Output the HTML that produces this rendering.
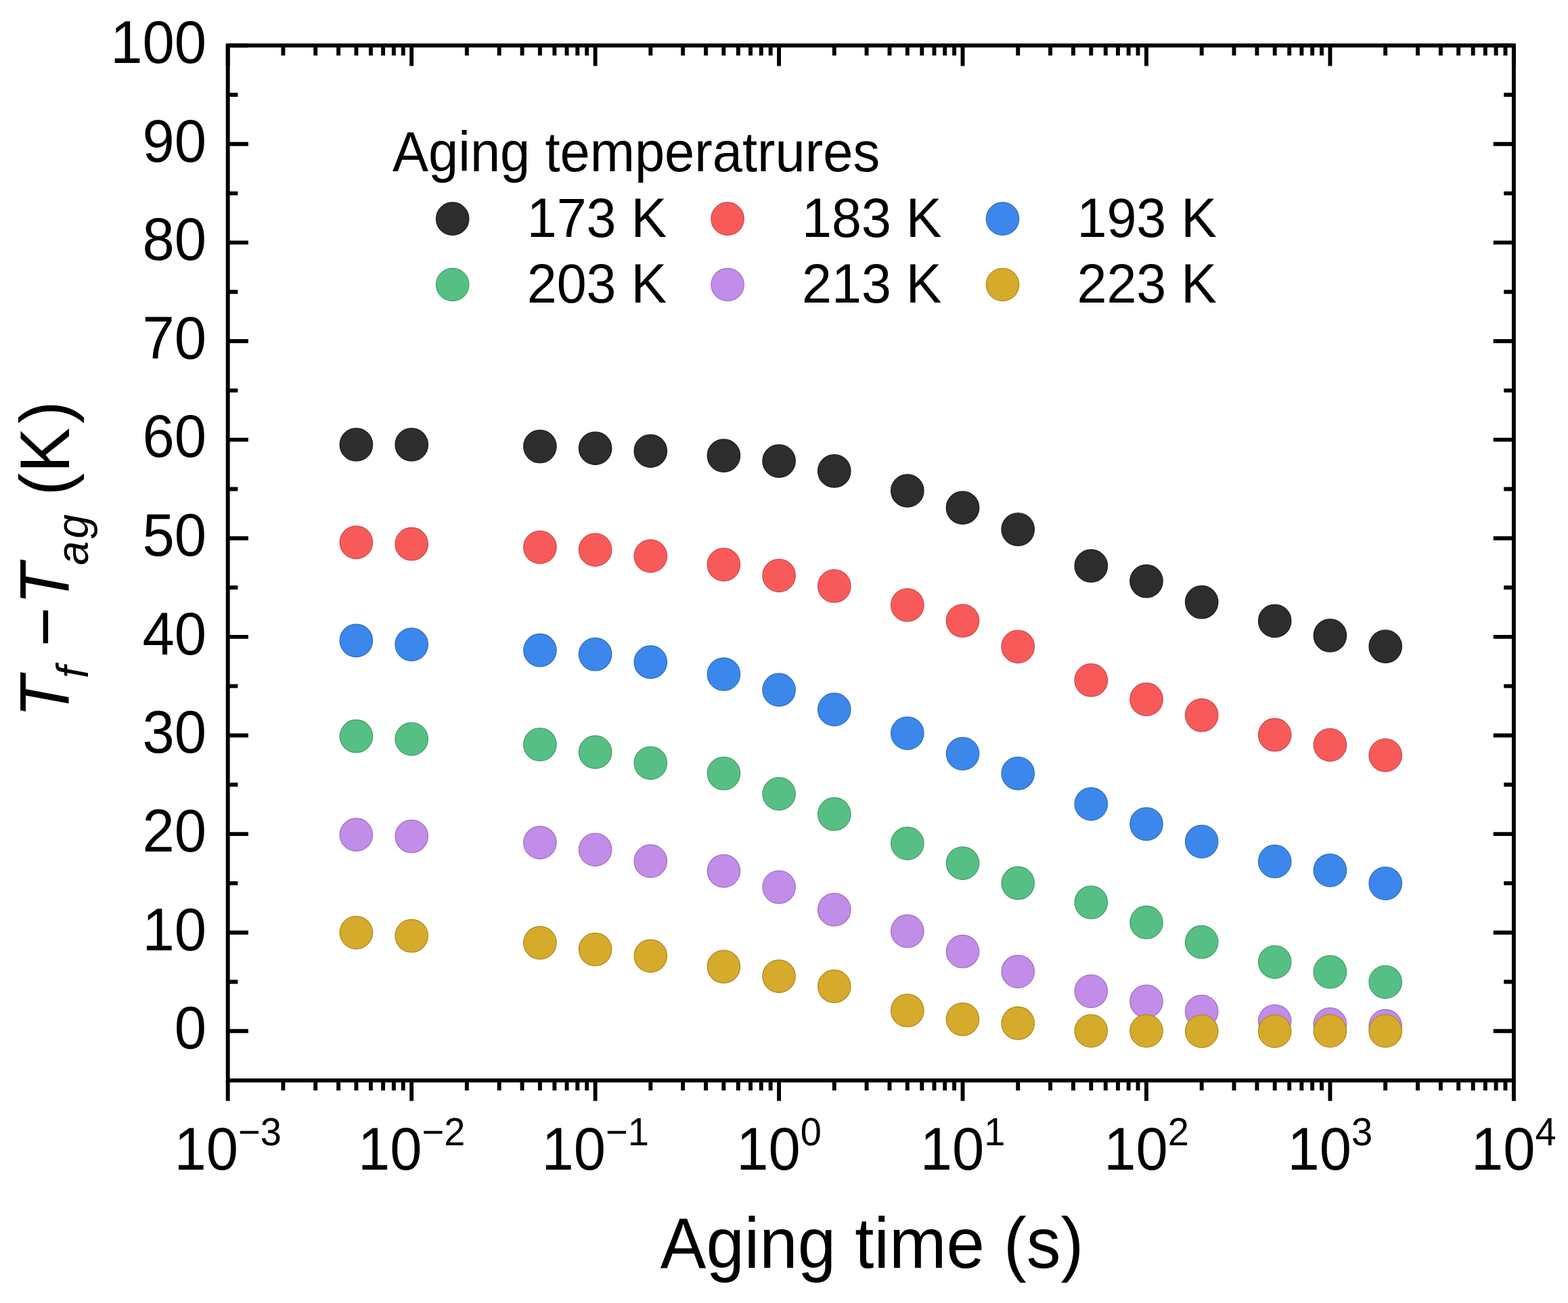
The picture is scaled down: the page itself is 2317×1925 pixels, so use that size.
<!DOCTYPE html>
<html><head><meta charset="utf-8"><title>Aging time plot</title>
<style>html,body{margin:0;padding:0;background:#fff;}svg{display:block;}text{font-family:"Liberation Sans",Arial,sans-serif;fill:#000;}</style>
</head><body>
<svg width="2317" height="1925" viewBox="0 0 2317 1925">
<rect x="0" y="0" width="2317" height="1925" fill="#fff"/>
<path d="M336.70 1596.20V1626.40M336.70 67.20V97.40M418.42 1596.20V1610.90M418.42 67.20V81.90M466.22 1596.20V1610.90M466.22 67.20V81.90M500.13 1596.20V1610.90M500.13 67.20V81.90M526.44 1596.20V1610.90M526.44 67.20V81.90M547.93 1596.20V1610.90M547.93 67.20V81.90M566.11 1596.20V1610.90M566.11 67.20V81.90M581.85 1596.20V1610.90M581.85 67.20V81.90M595.74 1596.20V1610.90M595.74 67.20V81.90M608.16 1596.20V1626.40M608.16 67.20V97.40M689.87 1596.20V1610.90M689.87 67.20V81.90M737.68 1596.20V1610.90M737.68 67.20V81.90M771.59 1596.20V1610.90M771.59 67.20V81.90M797.90 1596.20V1610.90M797.90 67.20V81.90M819.39 1596.20V1610.90M819.39 67.20V81.90M837.57 1596.20V1610.90M837.57 67.20V81.90M853.31 1596.20V1610.90M853.31 67.20V81.90M867.19 1596.20V1610.90M867.19 67.20V81.90M879.61 1596.20V1626.40M879.61 67.20V97.40M961.33 1596.20V1610.90M961.33 67.20V81.90M1009.13 1596.20V1610.90M1009.13 67.20V81.90M1043.05 1596.20V1610.90M1043.05 67.20V81.90M1069.35 1596.20V1610.90M1069.35 67.20V81.90M1090.85 1596.20V1610.90M1090.85 67.20V81.90M1109.02 1596.20V1610.90M1109.02 67.20V81.90M1124.76 1596.20V1610.90M1124.76 67.20V81.90M1138.65 1596.20V1610.90M1138.65 67.20V81.90M1151.07 1596.20V1626.40M1151.07 67.20V97.40M1232.79 1596.20V1610.90M1232.79 67.20V81.90M1280.59 1596.20V1610.90M1280.59 67.20V81.90M1314.50 1596.20V1610.90M1314.50 67.20V81.90M1340.81 1596.20V1610.90M1340.81 67.20V81.90M1362.31 1596.20V1610.90M1362.31 67.20V81.90M1380.48 1596.20V1610.90M1380.48 67.20V81.90M1396.22 1596.20V1610.90M1396.22 67.20V81.90M1410.11 1596.20V1610.90M1410.11 67.20V81.90M1422.53 1596.20V1626.40M1422.53 67.20V97.40M1504.25 1596.20V1610.90M1504.25 67.20V81.90M1552.05 1596.20V1610.90M1552.05 67.20V81.90M1585.96 1596.20V1610.90M1585.96 67.20V81.90M1612.27 1596.20V1610.90M1612.27 67.20V81.90M1633.76 1596.20V1610.90M1633.76 67.20V81.90M1651.94 1596.20V1610.90M1651.94 67.20V81.90M1667.68 1596.20V1610.90M1667.68 67.20V81.90M1681.56 1596.20V1610.90M1681.56 67.20V81.90M1693.99 1596.20V1626.40M1693.99 67.20V97.40M1775.70 1596.20V1610.90M1775.70 67.20V81.90M1823.50 1596.20V1610.90M1823.50 67.20V81.90M1857.42 1596.20V1610.90M1857.42 67.20V81.90M1883.73 1596.20V1610.90M1883.73 67.20V81.90M1905.22 1596.20V1610.90M1905.22 67.20V81.90M1923.39 1596.20V1610.90M1923.39 67.20V81.90M1939.14 1596.20V1610.90M1939.14 67.20V81.90M1953.02 1596.20V1610.90M1953.02 67.20V81.90M1965.44 1596.20V1626.40M1965.44 67.20V97.40M2047.16 1596.20V1610.90M2047.16 67.20V81.90M2094.96 1596.20V1610.90M2094.96 67.20V81.90M2128.88 1596.20V1610.90M2128.88 67.20V81.90M2155.18 1596.20V1610.90M2155.18 67.20V81.90M2176.68 1596.20V1610.90M2176.68 67.20V81.90M2194.85 1596.20V1610.90M2194.85 67.20V81.90M2210.59 1596.20V1610.90M2210.59 67.20V81.90M2224.48 1596.20V1610.90M2224.48 67.20V81.90M2236.90 1596.20V1626.40M2236.90 67.20V97.40M336.70 1523.30H366.90M2236.90 1523.30H2206.70M336.70 1450.49H351.40M2236.90 1450.49H2222.20M336.70 1377.69H366.90M2236.90 1377.69H2206.70M336.70 1304.88H351.40M2236.90 1304.88H2222.20M336.70 1232.08H366.90M2236.90 1232.08H2206.70M336.70 1159.28H351.40M2236.90 1159.28H2222.20M336.70 1086.47H366.90M2236.90 1086.47H2206.70M336.70 1013.66H351.40M2236.90 1013.66H2222.20M336.70 940.86H366.90M2236.90 940.86H2206.70M336.70 868.05H351.40M2236.90 868.05H2222.20M336.70 795.25H366.90M2236.90 795.25H2206.70M336.70 722.44H351.40M2236.90 722.44H2222.20M336.70 649.64H366.90M2236.90 649.64H2206.70M336.70 576.83H351.40M2236.90 576.83H2222.20M336.70 504.03H366.90M2236.90 504.03H2206.70M336.70 431.22H351.40M2236.90 431.22H2222.20M336.70 358.42H366.90M2236.90 358.42H2206.70M336.70 285.62H351.40M2236.90 285.62H2222.20M336.70 212.81H366.90M2236.90 212.81H2206.70M336.70 140.00H351.40M2236.90 140.00H2222.20M336.70 67.20H366.90M2236.90 67.20H2206.70" stroke="#000" stroke-width="5.9" fill="none"/>
<rect x="336.7" y="67.2" width="1900.20" height="1529.00" fill="none" stroke="#000" stroke-width="5.9"/>
<text transform="translate(305 1549.1) scale(1 1.04)" font-size="85" text-anchor="end">0</text>
<text transform="translate(305 1403.5) scale(1 1.04)" font-size="85" text-anchor="end">10</text>
<text transform="translate(305 1257.9) scale(1 1.04)" font-size="85" text-anchor="end">20</text>
<text transform="translate(305 1112.3) scale(1 1.04)" font-size="85" text-anchor="end">30</text>
<text transform="translate(305 966.7) scale(1 1.04)" font-size="85" text-anchor="end">40</text>
<text transform="translate(305 821.0) scale(1 1.04)" font-size="85" text-anchor="end">50</text>
<text transform="translate(305 675.4) scale(1 1.04)" font-size="85" text-anchor="end">60</text>
<text transform="translate(305 529.8) scale(1 1.04)" font-size="85" text-anchor="end">70</text>
<text transform="translate(305 384.2) scale(1 1.04)" font-size="85" text-anchor="end">80</text>
<text transform="translate(305 238.6) scale(1 1.04)" font-size="85" text-anchor="end">90</text>
<text transform="translate(305 93.0) scale(1 1.04)" font-size="85" text-anchor="end">100</text>
<text transform="translate(336.7 1728.3) scale(1 1.04)" font-size="85" text-anchor="middle">10<tspan font-size="56" dy="-34.62">−3</tspan></text>
<text transform="translate(608.2 1728.3) scale(1 1.04)" font-size="85" text-anchor="middle">10<tspan font-size="56" dy="-34.62">−2</tspan></text>
<text transform="translate(879.6 1728.3) scale(1 1.04)" font-size="85" text-anchor="middle">10<tspan font-size="56" dy="-34.62">−1</tspan></text>
<text transform="translate(1151.1 1728.3) scale(1 1.04)" font-size="85" text-anchor="middle">10<tspan font-size="56" dy="-34.62">0</tspan></text>
<text transform="translate(1422.5 1728.3) scale(1 1.04)" font-size="85" text-anchor="middle">10<tspan font-size="56" dy="-34.62">1</tspan></text>
<text transform="translate(1694.0 1728.3) scale(1 1.04)" font-size="85" text-anchor="middle">10<tspan font-size="56" dy="-34.62">2</tspan></text>
<text transform="translate(1965.4 1728.3) scale(1 1.04)" font-size="85" text-anchor="middle">10<tspan font-size="56" dy="-34.62">3</tspan></text>
<text transform="translate(2236.9 1728.3) scale(1 1.04)" font-size="85" text-anchor="middle">10<tspan font-size="56" dy="-34.62">4</tspan></text>
<text transform="translate(1288.5 1872.7) scale(1 1.04)" font-size="101.4" text-anchor="middle">Aging time (s)</text>
<text transform="translate(102 0) rotate(-90) scale(1 1.04)" font-size="100"><tspan x="-1060.0" y="0.00" font-style="italic">T</tspan><tspan x="-1001.9" y="26.92" font-size="64" font-style="italic">f</tspan><tspan x="-955.3" y="0.00">−</tspan><tspan x="-893.6" y="0.00" font-style="italic">T</tspan><tspan x="-834.9" y="26.92" font-size="64" font-style="italic">a</tspan><tspan x="-795.6" y="26.92" font-size="64" font-style="italic">g</tspan><tspan x="-760.0" y="0.00"> (</tspan><tspan x="-698.4" y="0.00">K</tspan><tspan x="-625.8" y="0.00">)</tspan></text>
<text transform="translate(580 253.1) scale(1 1.04)" font-size="79.5">Aging temperatrures</text>
<circle cx="668.7" cy="323.2" r="24.2" fill="#2d2d2d" stroke="#1e1e1e" stroke-width="1.3"/>
<text transform="translate(778.7 349.9) scale(1 1.04)" font-size="79">173 K</text>
<circle cx="1075.1" cy="323.2" r="24.2" fill="#f85a5a" stroke="#cf4a4c" stroke-width="1.3"/>
<text transform="translate(1185.1 349.9) scale(1 1.04)" font-size="79">183 K</text>
<circle cx="1481.5" cy="323.2" r="24.2" fill="#3c87ec" stroke="#3170c4" stroke-width="1.3"/>
<text transform="translate(1591.5 349.9) scale(1 1.04)" font-size="79">193 K</text>
<circle cx="668.7" cy="420.5" r="24.2" fill="#56c084" stroke="#469e6c" stroke-width="1.3"/>
<text transform="translate(778.7 447.4) scale(1 1.04)" font-size="79">203 K</text>
<circle cx="1075.1" cy="420.5" r="24.2" fill="#c28ce9" stroke="#a074c2" stroke-width="1.3"/>
<text transform="translate(1185.1 447.4) scale(1 1.04)" font-size="79">213 K</text>
<circle cx="1481.5" cy="420.5" r="24.2" fill="#d6aa2a" stroke="#b08b22" stroke-width="1.3"/>
<text transform="translate(1591.5 447.4) scale(1 1.04)" font-size="79">223 K</text>
<g fill="#2d2d2d" stroke="#1e1e1e" stroke-width="1.3">
<circle cx="526.4" cy="656.9" r="24.2"/>
<circle cx="608.2" cy="656.9" r="24.2"/>
<circle cx="797.9" cy="659.6" r="24.2"/>
<circle cx="879.6" cy="662.3" r="24.2"/>
<circle cx="961.3" cy="666.3" r="24.2"/>
<circle cx="1069.4" cy="673.1" r="24.2"/>
<circle cx="1151.1" cy="681.1" r="24.2"/>
<circle cx="1232.8" cy="695.9" r="24.2"/>
<circle cx="1340.8" cy="725.0" r="24.2"/>
<circle cx="1422.5" cy="750.1" r="24.2"/>
<circle cx="1504.2" cy="782.1" r="24.2"/>
<circle cx="1612.3" cy="836.0" r="24.2"/>
<circle cx="1694.0" cy="858.6" r="24.2"/>
<circle cx="1775.7" cy="889.6" r="24.2"/>
<circle cx="1883.7" cy="917.4" r="24.2"/>
<circle cx="1965.4" cy="938.9" r="24.2"/>
<circle cx="2047.2" cy="955.1" r="24.2"/>
</g>
<g fill="#f85a5a" stroke="#cf4a4c" stroke-width="1.3">
<circle cx="526.4" cy="801.3" r="24.2"/>
<circle cx="608.2" cy="803.7" r="24.2"/>
<circle cx="797.9" cy="808.5" r="24.2"/>
<circle cx="879.6" cy="812.3" r="24.2"/>
<circle cx="961.3" cy="821.5" r="24.2"/>
<circle cx="1069.4" cy="834.1" r="24.2"/>
<circle cx="1151.1" cy="850.3" r="24.2"/>
<circle cx="1232.8" cy="865.9" r="24.2"/>
<circle cx="1340.8" cy="893.9" r="24.2"/>
<circle cx="1422.5" cy="917.1" r="24.2"/>
<circle cx="1504.2" cy="955.3" r="24.2"/>
<circle cx="1612.3" cy="1004.9" r="24.2"/>
<circle cx="1694.0" cy="1033.2" r="24.2"/>
<circle cx="1775.7" cy="1056.6" r="24.2"/>
<circle cx="1883.7" cy="1085.7" r="24.2"/>
<circle cx="1965.4" cy="1100.5" r="24.2"/>
<circle cx="2047.2" cy="1115.8" r="24.2"/>
</g>
<g fill="#3c87ec" stroke="#3170c4" stroke-width="1.3">
<circle cx="526.4" cy="946.4" r="24.2"/>
<circle cx="608.2" cy="952.1" r="24.2"/>
<circle cx="797.9" cy="960.7" r="24.2"/>
<circle cx="879.6" cy="966.6" r="24.2"/>
<circle cx="961.3" cy="978.2" r="24.2"/>
<circle cx="1069.4" cy="996.0" r="24.2"/>
<circle cx="1151.1" cy="1019.2" r="24.2"/>
<circle cx="1232.8" cy="1048.2" r="24.2"/>
<circle cx="1340.8" cy="1083.3" r="24.2"/>
<circle cx="1422.5" cy="1113.5" r="24.2"/>
<circle cx="1504.2" cy="1142.6" r="24.2"/>
<circle cx="1612.3" cy="1187.8" r="24.2"/>
<circle cx="1694.0" cy="1217.4" r="24.2"/>
<circle cx="1775.7" cy="1243.3" r="24.2"/>
<circle cx="1883.7" cy="1272.7" r="24.2"/>
<circle cx="1965.4" cy="1285.8" r="24.2"/>
<circle cx="2047.2" cy="1305.1" r="24.2"/>
</g>
<g fill="#56c084" stroke="#469e6c" stroke-width="1.3">
<circle cx="526.4" cy="1087.7" r="24.2"/>
<circle cx="608.2" cy="1091.8" r="24.2"/>
<circle cx="797.9" cy="1099.9" r="24.2"/>
<circle cx="879.6" cy="1111.2" r="24.2"/>
<circle cx="961.3" cy="1127.3" r="24.2"/>
<circle cx="1069.4" cy="1142.6" r="24.2"/>
<circle cx="1151.1" cy="1172.8" r="24.2"/>
<circle cx="1232.8" cy="1202.7" r="24.2"/>
<circle cx="1340.8" cy="1246.0" r="24.2"/>
<circle cx="1422.5" cy="1275.3" r="24.2"/>
<circle cx="1504.2" cy="1304.7" r="24.2"/>
<circle cx="1612.3" cy="1333.1" r="24.2"/>
<circle cx="1694.0" cy="1362.7" r="24.2"/>
<circle cx="1775.7" cy="1391.7" r="24.2"/>
<circle cx="1883.7" cy="1421.3" r="24.2"/>
<circle cx="1965.4" cy="1435.9" r="24.2"/>
<circle cx="2047.2" cy="1450.8" r="24.2"/>
</g>
<g fill="#c28ce9" stroke="#a074c2" stroke-width="1.3">
<circle cx="526.4" cy="1233.2" r="24.2"/>
<circle cx="608.2" cy="1235.6" r="24.2"/>
<circle cx="797.9" cy="1244.8" r="24.2"/>
<circle cx="879.6" cy="1255.3" r="24.2"/>
<circle cx="961.3" cy="1272.2" r="24.2"/>
<circle cx="1069.4" cy="1286.8" r="24.2"/>
<circle cx="1151.1" cy="1310.6" r="24.2"/>
<circle cx="1232.8" cy="1343.9" r="24.2"/>
<circle cx="1340.8" cy="1375.7" r="24.2"/>
<circle cx="1422.5" cy="1405.7" r="24.2"/>
<circle cx="1504.2" cy="1435.3" r="24.2"/>
<circle cx="1612.3" cy="1464.4" r="24.2"/>
<circle cx="1694.0" cy="1479.4" r="24.2"/>
<circle cx="1775.7" cy="1494.3" r="24.2"/>
<circle cx="1883.7" cy="1508.6" r="24.2"/>
<circle cx="1965.4" cy="1513.0" r="24.2"/>
<circle cx="2047.2" cy="1515.7" r="24.2"/>
</g>
<g fill="#d6aa2a" stroke="#b08b22" stroke-width="1.3">
<circle cx="526.4" cy="1377.8" r="24.2"/>
<circle cx="608.2" cy="1382.6" r="24.2"/>
<circle cx="797.9" cy="1392.9" r="24.2"/>
<circle cx="879.6" cy="1402.6" r="24.2"/>
<circle cx="961.3" cy="1412.3" r="24.2"/>
<circle cx="1069.4" cy="1428.1" r="24.2"/>
<circle cx="1151.1" cy="1442.3" r="24.2"/>
<circle cx="1232.8" cy="1457.2" r="24.2"/>
<circle cx="1340.8" cy="1492.9" r="24.2"/>
<circle cx="1422.5" cy="1505.8" r="24.2"/>
<circle cx="1504.2" cy="1511.7" r="24.2"/>
<circle cx="1612.3" cy="1523.0" r="24.2"/>
<circle cx="1694.0" cy="1523.0" r="24.2"/>
<circle cx="1775.7" cy="1523.5" r="24.2"/>
<circle cx="1883.7" cy="1523.5" r="24.2"/>
<circle cx="1965.4" cy="1523.0" r="24.2"/>
<circle cx="2047.2" cy="1523.0" r="24.2"/>
</g>
</svg></body></html>
